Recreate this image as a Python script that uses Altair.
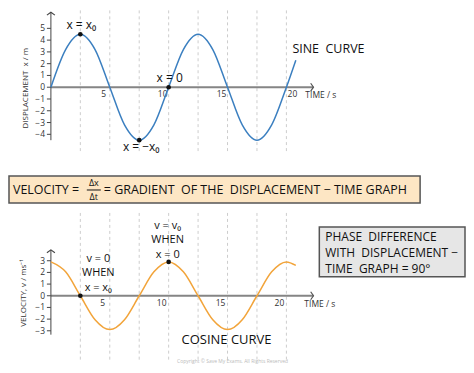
import altair as alt
import pandas as pd

# ---------------- data ----------------
time_s = [0, 1.25, 2.5, 3.75, 5, 6.25, 7.5, 8.75, 10, 11.25, 12.5, 13.75, 15, 16.25, 17.5, 18.75, 20, 20.8]
displacement_m = [0, 3.2, 4.5, 3.2, 0, -3.2, -4.5, -3.2, 0, 3.2, 4.5, 3.2, 0, -3.2, -4.5, -3.2, 0, 2.3]
velocity_ms = [2.9, 2.05, 0, -2.05, -2.9, -2.05, 0, 2.05, 2.9, 2.05, 0, -2.05, -2.9, -2.05, 0, 2.05, 2.9, 2.6]

grid_times = [2.5, 5, 7.5, 10, 12.5, 15, 17.5, 20]
time_tick_labels = [5, 10, 15, 20]
disp_ticks = [-4, -3, -2, -1, 0, 1, 2, 3, 4, 5]
vel_ticks = [-3, -2, -1, 0, 1, 2, 3]

disp_pts_t = [2.5, 7.5, 10]
disp_pts_x = [4.5, -4.5, 0]
disp_pts_label = ["x = x₀", "x = −x₀", "x = 0"]

vel_pts_t = [2.5, 10]
vel_pts_v = [0, 2.9]
vel_pts_label = ["v = 0\nWHEN\nx = x₀", "v = v₀\nWHEN\nx = 0"]

# axis extents (data units)
TIME_AXIS_END = 22.3
DISP_AXIS = [-4.5, 6.36]
VEL_AXIS = [-3.33, 3.93]

FONT = "Open Sans"
NB = "\u00a0"
W = 458
H_TOP, H_MID, H_BOT = 162, 40, 155

xs = alt.Scale(domain=[-3.559, 35.254], nice=False, zero=False)
ys_top = alt.Scale(domain=[-7.034, 6.695], nice=False, zero=False)
ys_bot = alt.Scale(domain=[-5.897, 7.350], nice=False, zero=False)

one = pd.DataFrame({"k": [0]})


def xq(f="t"):
    return alt.X(f"{f}:Q", scale=xs, axis=None)


def xd(v):
    return alt.XDatum(v, scale=xs, axis=None)


def yq(f, sc):
    return alt.Y(f"{f}:Q", scale=sc, axis=None)


def yd(v, sc):
    return alt.YDatum(v, scale=sc, axis=None)


def axes_layers(sc, ticks, yext, grid_y):
    layers = []
    layers.append(
        alt.Chart(pd.DataFrame({"t": grid_times}))
        .mark_rule(color="#cdcdcd", strokeDash=[3, 3], strokeWidth=1)
        .encode(x=xq(), y=alt.value(grid_y[0]), y2=alt.value(grid_y[1]))
    )
    # x axis line + arrow
    layers.append(
        alt.Chart(one).mark_rule(color="#858585", strokeWidth=2)
        .encode(x=xd(0), x2=alt.X2Datum(TIME_AXIS_END), y=yd(0, sc))
    )
    layers.append(
        alt.Chart(one).mark_point(shape="M-0.7,-1L0,0L-0.7,1", size=64, filled=False,
                                  color="#555", strokeWidth=1.2, opacity=1)
        .encode(x=xd(TIME_AXIS_END), y=yd(0, sc))
    )
    # y axis line + arrow
    layers.append(
        alt.Chart(one).mark_rule(color="#444", strokeWidth=1)
        .encode(x=xd(0), y=yd(yext[0], sc), y2=alt.Y2Datum(yext[1]))
    )
    layers.append(
        alt.Chart(one).mark_point(shape="M-1,0.7L0,0L1,0.7", size=64, filled=False,
                                  color="#444", strokeWidth=1.2, opacity=1)
        .encode(x=xd(0), y=yd(yext[1], sc))
    )
    tdf = pd.DataFrame({"v": ticks})
    layers.append(
        alt.Chart(tdf).mark_rule(color="#444", strokeWidth=1)
        .encode(x=xd(-0.34), x2=alt.X2Datum(0), y=yq("v", sc))
    )
    layers.append(
        alt.Chart(tdf).mark_text(align="right", baseline="middle", font=FONT, fontSize=8.5, color="#333")
        .encode(x=xd(-0.5), y=yq("v", sc), text=alt.Text("v:Q"))
    )
    return layers


# ---------------- top panel: displacement ----------------
top_layers = axes_layers(ys_top, disp_ticks, DISP_AXIS, (2, 144))
tl = pd.DataFrame({"t": time_tick_labels})
top_layers.append(
    alt.Chart(tl).transform_filter("datum.t < 20")
    .mark_text(baseline="middle", font=FONT, fontSize=8.5, color="#333", dy=7, dx=-6)
    .encode(x=xq(), y=yd(0, ys_top), text=alt.Text("t:Q"))
)
top_layers.append(
    alt.Chart(tl).transform_filter("datum.t >= 20")
    .mark_text(baseline="middle", font=FONT, fontSize=8.5, color="#333", dy=7, dx=6)
    .encode(x=xq(), y=yd(0, ys_top), text=alt.Text("t:Q"))
)
top_layers.append(
    alt.Chart(pd.DataFrame({"t": time_s, "x": displacement_m}))
    .mark_line(color="#3b7fc0", strokeWidth=1.5, interpolate="monotone")
    .encode(x=xq(), y=yq("x", ys_top))
)
dp = pd.DataFrame({"t": disp_pts_t, "x": disp_pts_x, "label": disp_pts_label})
top_layers.append(
    alt.Chart(dp).mark_circle(color="#111", size=22, opacity=1)
    .encode(x=xq(), y=yq("x", ys_top))
)
top_layers.append(
    alt.Chart(dp).transform_filter("datum.x >= 0")
    .mark_text(baseline="middle", font=FONT, fontSize=12, color="#111", dy=-9, dx=1)
    .encode(x=xq(), y=yq("x", ys_top), text="label:N")
)
top_layers.append(
    alt.Chart(dp).transform_filter("datum.x < 0")
    .mark_text(baseline="middle", font=FONT, fontSize=12, color="#111", dy=7, dx=2)
    .encode(x=xq(), y=yq("x", ys_top), text="label:N")
)
top_layers.append(
    alt.Chart(one).mark_text(angle=270, baseline="middle", font=FONT, fontSize=8, color="#333")
    .encode(x=alt.value(17), y=alt.value(80), text=alt.value(f"DISPLACEMENT{NB}{NB}x / m"))
)
top_layers.append(
    alt.Chart(one).mark_text(align="left", baseline="middle", font=FONT, fontSize=12.5, color="#111")
    .encode(x=alt.value(284), y=alt.value(41), text=alt.value(f"SINE{NB}{NB}CURVE"))
)
top_layers.append(
    alt.Chart(one).mark_text(align="left", baseline="middle", font=FONT, fontSize=8.5, color="#333")
    .encode(x=alt.value(297), y=alt.value(87), text=alt.value("TIME / s"))
)
top = alt.layer(*top_layers).properties(width=W, height=H_TOP)

# ---------------- middle panel: velocity box ----------------
mid_layers = [
    alt.Chart(one).mark_rect(fill="#fde6c4", stroke="#555", strokeWidth=1.5)
    .encode(x=alt.value(0), x2=alt.value(412), y=alt.value(6), y2=alt.value(33)),
    alt.Chart(one).mark_text(align="left", baseline="middle", font=FONT, fontSize=12.5, color="#111")
    .encode(x=alt.value(4), y=alt.value(20), text=alt.value("VELOCITY =")),
    alt.Chart(one).mark_text(align="center", baseline="middle", font=FONT, fontSize=9, color="#111")
    .encode(x=alt.value(85), y=alt.value(13), text=alt.value("Δx")),
    alt.Chart(one).mark_text(align="center", baseline="middle", font=FONT, fontSize=9, color="#111")
    .encode(x=alt.value(85), y=alt.value(27), text=alt.value("Δt")),
    alt.Chart(one).mark_rule(color="#111", strokeWidth=1)
    .encode(x=alt.value(78), x2=alt.value(92), y=alt.value(20)),
    alt.Chart(one).mark_text(align="left", baseline="middle", font=FONT, fontSize=12.5, color="#111")
    .encode(x=alt.value(95), y=alt.value(20),
            text=alt.value(f"= GRADIENT{NB}{NB}OF THE{NB}{NB}DISPLACEMENT − TIME GRAPH")),
]
mid = alt.layer(*mid_layers).properties(width=W, height=H_MID)

# ---------------- bottom panel: velocity ----------------
bot_layers = axes_layers(ys_bot, vel_ticks, VEL_AXIS, (3, 152))
bot_layers.append(
    alt.Chart(tl).mark_text(baseline="middle", font=FONT, fontSize=8.5, color="#333", dy=7, dx=-7)
    .encode(x=xq(), y=yd(0, ys_bot), text=alt.Text("t:Q"))
)
bot_layers.append(
    alt.Chart(pd.DataFrame({"t": time_s, "v": velocity_ms}))
    .mark_line(color="#f2a43a", strokeWidth=1.5, interpolate="monotone")
    .encode(x=xq(), y=yq("v", ys_bot))
)
vp = pd.DataFrame({"t": vel_pts_t, "v": vel_pts_v, "label": vel_pts_label})
bot_layers.append(
    alt.Chart(vp).mark_circle(color="#111", size=22, opacity=1)
    .encode(x=xq(), y=yq("v", ys_bot))
)
bot_layers.append(
    alt.Chart(vp).transform_filter("datum.v == 0")
    .mark_text(baseline="middle", font=FONT, fontSize=11, color="#111", lineBreak="\n",
               lineHeight=14.5, dy=-37, dx=18)
    .encode(x=xq(), y=yq("v", ys_bot), text="label:N")
)
bot_layers.append(
    alt.Chart(vp).transform_filter("datum.v > 0")
    .mark_text(baseline="middle", font=FONT, fontSize=11, color="#111", lineBreak="\n",
               lineHeight=14.5, dy=-36, dx=-1)
    .encode(x=xq(), y=yq("v", ys_bot), text="label:N")
)
bot_layers += [
    alt.Chart(one).mark_text(angle=270, baseline="middle", font=FONT, fontSize=8, color="#333")
    .encode(x=alt.value(15), y=alt.value(83), text=alt.value("VELOCITY, v / ms⁻¹")),
    alt.Chart(one).mark_text(align="center", baseline="middle", font=FONT, fontSize=13, color="#111")
    .encode(x=alt.value(218), y=alt.value(130), text=alt.value("COSINE CURVE")),
    alt.Chart(one).mark_text(align="left", baseline="middle", font=FONT, fontSize=8.5, color="#333")
    .encode(x=alt.value(296), y=alt.value(94), text=alt.value("TIME / s")),
    alt.Chart(one).mark_rect(fill="#e6e6e6", stroke="#555", strokeWidth=1.5)
    .encode(x=alt.value(311), x2=alt.value(457), y=alt.value(17), y2=alt.value(67)),
    alt.Chart(one).mark_text(align="left", baseline="middle", font=FONT, fontSize=12, color="#111",
                             lineBreak="\n", lineHeight=16)
    .encode(x=alt.value(317), y=alt.value(27),
            text=alt.value(f"PHASE{NB}{NB}DIFFERENCE\nWITH{NB}{NB}DISPLACEMENT −\nTIME{NB}{NB}GRAPH = 90°")),
    alt.Chart(one).mark_text(align="center", baseline="middle", font=FONT, fontSize=5, color="#bbb")
    .encode(x=alt.value(224), y=alt.value(151),
            text=alt.value("Copyright © Save My Exams. All Rights Reserved")),
]
bot = alt.layer(*bot_layers).properties(width=W, height=H_BOT)

chart = (
    alt.vconcat(top, mid, bot, spacing=0, bounds="flush")
    .properties(padding=0)
    .configure_view(stroke=None)
)

chart.save("out.html", embed_options={"renderer": "svg", "actions": False})
